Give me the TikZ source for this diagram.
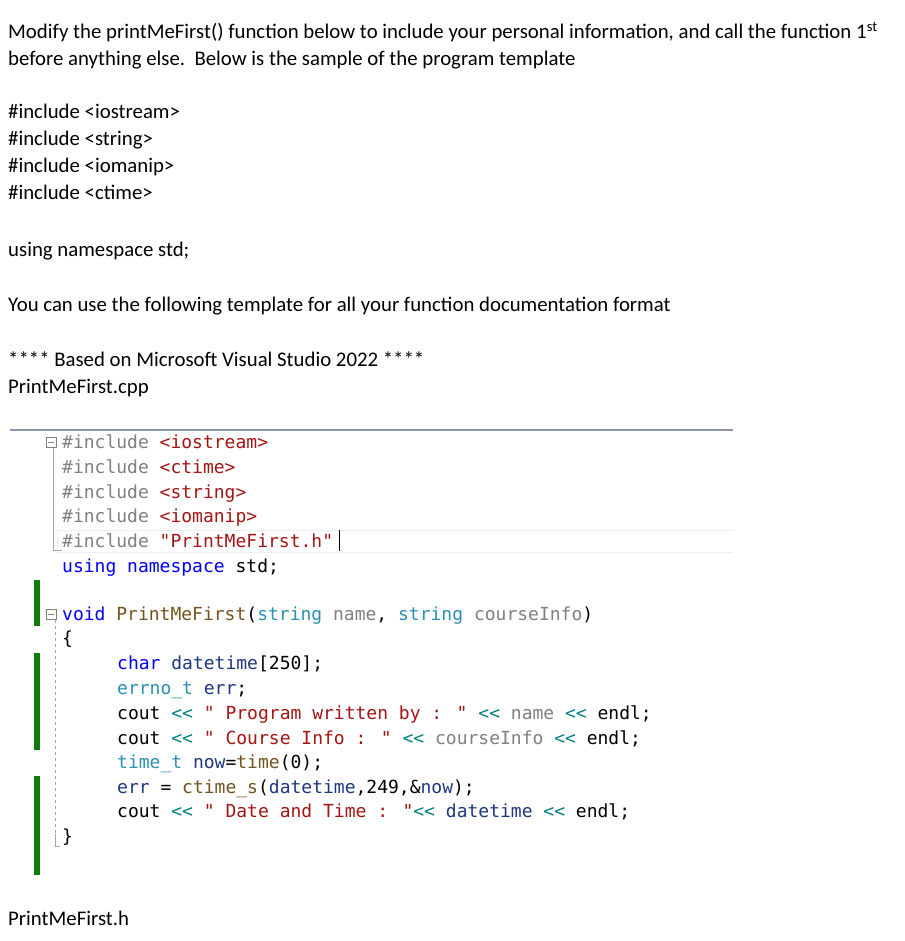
\documentclass[tikz,border=0pt]{standalone}
\usepackage{fontspec}
\setmainfont{Carlito}
\newfontfamily\codefont{DejaVu Sans Mono}
\definecolor{kw}{RGB}{0,0,255}
\definecolor{pp}{RGB}{128,128,128}
\definecolor{st}{RGB}{163,21,21}
\definecolor{ty}{RGB}{43,145,175}
\definecolor{fn}{RGB}{116,83,31}
\definecolor{op}{RGB}{0,128,128}
\definecolor{pa}{RGB}{128,128,128}
\definecolor{va}{RGB}{31,55,127}
\definecolor{gbar}{RGB}{16,124,16}
\tikzset{txt/.style={anchor=base west,inner sep=0pt,font=\fontsize{20.8}{24}\selectfont},
code/.style={anchor=base west,inner sep=0pt,font=\codefont\fontsize{18}{20}\selectfont}}
\begin{document}
\begin{tikzpicture}[x=1pt,y=-1pt]
\useasboundingbox[fill=white] (0,0) rectangle (904,941);
\node[txt] (l1) at (8,39) {Modify the printMeFirst() function below to include your personal information, and call the function 1\textsuperscript{st}};
\node[txt] (l2) at (8,66) {before anything else.\ \ Below is the sample of the program template};
\node[txt] (i1) at (8,119) {\#include <iostream>};
\node[txt] (i2) at (8,146) {\#include <string>};
\node[txt] (i3) at (8,173) {\#include <iomanip>};
\node[txt] (i4) at (8,200) {\#include <ctime>};
\node[txt] (us) at (8,256) {using namespace std;};
\node[txt] (yc) at (8,311) {You can use the following template for all your function documentation format};
\node[txt] (ms) at (8,366) {**** Based on Microsoft Visual Studio 2022 ****};
\node[txt] (cp) at (8,393) {PrintMeFirst.cpp};
\node[txt] (hh) at (8,925) {PrintMeFirst.h};
% editor
\draw[color={rgb,255:red,140;green,150;blue,175},line width=2pt] (10,430) -- (733,430);
\fill[color={rgb,255:red,238;green,238;blue,238}] (57,530) rectangle (733,553);
\fill[white] (58,531) rectangle (733,552);
\draw[gray!70] (53,448) -- (53,550) -- (62,550);
\draw[gray!70,dashed] (55,620) -- (55,834);
\draw[gray!70] (55,834) -- (55,846) -- (60,846);
\foreach \yy/\nm in {442/b1,614/b2}{
 \draw[gray] (46,\yy-5) rectangle (56,\yy+5);
 \draw[gray] (48,\yy) -- (54,\yy);}
\fill[gbar] (34,580) rectangle (40,626);
\fill[gbar] (34,653) rectangle (40,750);
\fill[gbar] (34,776) rectangle (40,875);
\draw[black,line width=1pt] (339,530) -- (339,551);
\node[code] (c1) at (62,448) {\textcolor{pp}{\#include} \textcolor{st}{<iostream>}};
\node[code] (c2) at (62,473) {\textcolor{pp}{\#include} \textcolor{st}{<ctime>}};
\node[code] (c3) at (62,498) {\textcolor{pp}{\#include} \textcolor{st}{<string>}};
\node[code] (c4) at (62,522) {\textcolor{pp}{\#include} \textcolor{st}{<iomanip>}};
\node[code] (c5) at (62,547) {\textcolor{pp}{\#include} \textcolor{st}{"PrintMeFirst.h"}};
\node[code] (c6) at (62,572) {\textcolor{kw}{using} \textcolor{kw}{namespace} std;};
\node[code] (c7) at (62,620) {\textcolor{kw}{void} \textcolor{fn}{PrintMeFirst}(\textcolor{ty}{string} \textcolor{pa}{name}, \textcolor{ty}{string} \textcolor{pa}{courseInfo})};
\node[code] (c8) at (62,644) {\{};
\node[code] (c9) at (117,669) {\textcolor{kw}{char} \textcolor{va}{datetime}[250];};
\node[code] (c10) at (117,694) {\textcolor{ty}{errno\_t} \textcolor{va}{err};};
\node[code] (c11) at (117,719) {cout \textcolor{op}{<<} \textcolor{st}{" Program written by : "} \textcolor{op}{<<} \textcolor{pa}{name} \textcolor{op}{<<} endl;};
\node[code] (c12) at (117,744) {cout \textcolor{op}{<<} \textcolor{st}{" Course Info : "} \textcolor{op}{<<} \textcolor{pa}{courseInfo} \textcolor{op}{<<} endl;};
\node[code] (c13) at (117,768) {\textcolor{ty}{time\_t} \textcolor{va}{now}=\textcolor{fn}{time}(0);};
\node[code] (c14) at (117,793) {\textcolor{va}{err} = \textcolor{fn}{ctime\_s}(\textcolor{va}{datetime},249,\&\textcolor{va}{now});};
\node[code] (c15) at (117,817) {cout \textcolor{op}{<<} \textcolor{st}{" Date and Time : "}\textcolor{op}{<<} \textcolor{va}{datetime} \textcolor{op}{<<} endl;};
\node[code] (c16) at (62,842) {\}};
\end{tikzpicture}
\end{document}
